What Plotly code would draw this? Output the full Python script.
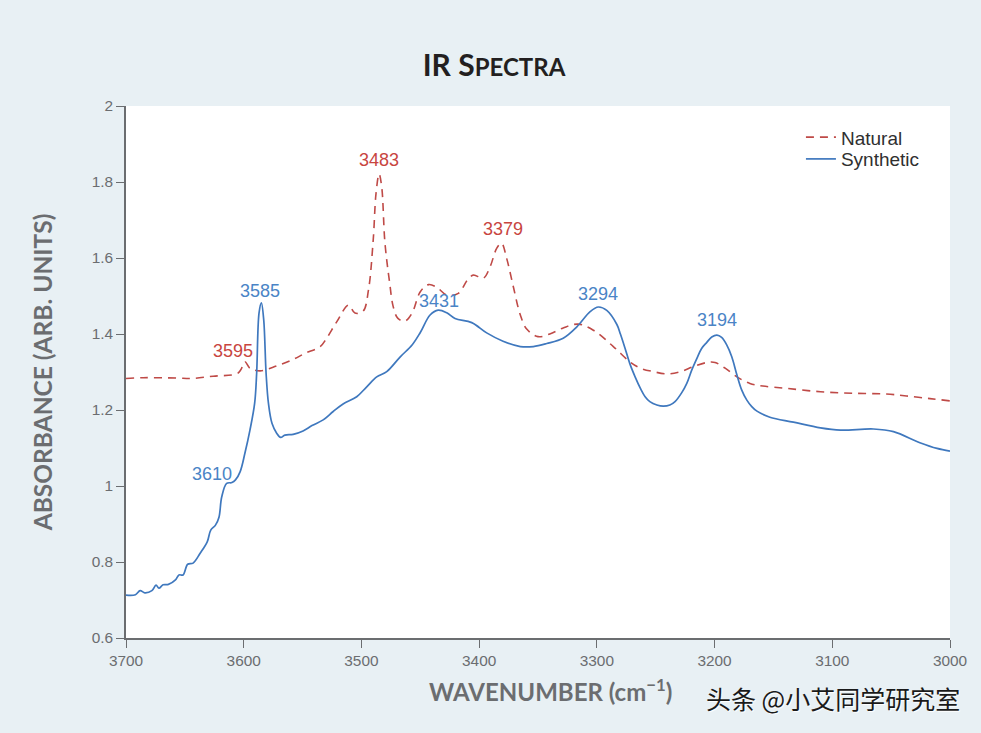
import plotly.graph_objects as go

synthetic_wn = [3700,3692,3688,3684,3678,3674.5,3672,3668.5,3664,3658,3655,3651.5,3647.6,3643,3637,3631,3628,3624,3621,3618.7,3614.5,3610,3607,3603,3599,3594.7,3590.7,3589,3587,3585,3583,3581,3579,3576,3572,3568.6,3565,3558,3549.6,3542,3532.5,3524,3515.6,3504,3495.5,3487,3478.5,3467,3457,3450,3441.7,3434.8,3427.5,3420.5,3406.3,3393.6,3379.7,3365,3354,3342.6,3328.6,3317,3305.7,3298.7,3291.6,3283,3280,3276,3272,3267.6,3263,3259,3255,3249,3243.6,3238,3233.6,3228,3223.6,3219.4,3215,3211,3206.6,3202.4,3198,3194,3189.8,3185.4,3181,3177,3172.6,3168.4,3164,3153,3133,3110,3093,3065,3048,3025.6,3011,3000]
synthetic_abs = [.713,.714,.7246,.719,.7246,.739,.731,.740,.741,.753,.766,.766,.794,.797,.823,.853,.884,.897,.918,.971,1.007,1.009,1.016,1.038,1.086,1.147,1.218,1.297,1.455,1.482,1.437,1.297,1.218,1.165,1.139,1.128,1.134,1.136,1.145,1.159,1.174,1.196,1.216,1.235,1.261,1.287,1.301,1.34,1.371,1.404,1.45,1.463,1.456,1.441,1.43,1.403,1.381,1.367,1.367,1.375,1.389,1.419,1.459,1.471,1.462,1.425,1.4,1.362,1.322,1.288,1.257,1.235,1.222,1.213,1.21,1.213,1.222,1.245,1.27,1.305,1.336,1.362,1.378,1.392,1.397,1.391,1.372,1.34,1.292,1.253,1.226,1.209,1.197,1.181,1.168,1.153,1.147,1.15,1.143,1.114,1.099,1.092]

natural_wn = [3700,3685.5,3657,3644,3626,3606,3602.6,3599,3594.7,3586,3572,3558,3548,3535,3529.5,3521,3511,3505.5,3498.6,3494,3490,3487.6,3485,3482.8,3480,3476,3473,3469,3463,3457,3450,3443,3436,3427.6,3417.7,3410,3405,3396.4,3390.7,3385,3381,3376.7,3371,3365,3359.6,3350,3340,3328.6,3316,3303,3286,3272,3263,3252,3240.6,3229,3218,3206.6,3199.6,3191,3181,3170,3159,3139,3110,3082,3054,3037,3017,3000]
natural_abs = [1.283,1.285,1.284,1.283,1.289,1.295,1.305,1.327,1.31,1.303,1.316,1.333,1.349,1.367,1.389,1.432,1.476,1.455,1.46,1.516,1.647,1.77,1.821,1.788,1.639,1.534,1.472,1.441,1.434,1.455,1.511,1.53,1.523,1.503,1.507,1.542,1.555,1.547,1.577,1.626,1.639,1.6,1.525,1.45,1.413,1.393,1.4,1.416,1.426,1.41,1.367,1.327,1.31,1.301,1.295,1.301,1.314,1.325,1.325,1.31,1.287,1.27,1.263,1.257,1.248,1.244,1.242,1.237,1.23,1.224]

natural_peak_text = ["3595","3483","3379"]
natural_peak_wn = [3599,3485,3381]
natural_peak_abs = [1.327,1.821,1.639]
synthetic_peak_text = ["3610","3585","3431","3294","3194"]
synthetic_peak_wn = [3610,3585,3434.8,3298.7,3198]
synthetic_peak_abs = [1.009,1.482,1.463,1.471,1.397]

x_ticks = [3700,3600,3500,3400,3300,3200,3100,3000]
y_ticks = [0.6,0.8,1,1.2,1.4,1.6,1.8,2]

BG = "#e8f0f4"
RED = "#bf4a47"
BLUE = "#3f78be"
GREY = "#6b6d70"
SANS = "Liberation Sans"
HEAD = "Lato"

fig = go.Figure()
fig.add_trace(go.Scatter(x=natural_wn, y=natural_abs, mode="lines", name="Natural", legend="legend", showlegend=True,
                         line=dict(color=RED, width=1.6, dash="8px,6px", shape="spline", smoothing=1.0)))
fig.add_trace(go.Scatter(x=synthetic_wn, y=synthetic_abs, mode="lines", name="Synthetic", legend="legend2", showlegend=True,
                         line=dict(color=BLUE, width=1.7, shape="spline", smoothing=1.0)))

offsets = {"3595": (-12, 11), "3483": (0, 14), "3379": (1, 14),
           "3610": (-20, 9), "3585": (-1, 12), "3431": (1, 9), "3294": (0, 13), "3194": (0, 15)}
for texts, xs, ys, col in [(natural_peak_text, natural_peak_wn, natural_peak_abs, "#c8453f"),
                           (synthetic_peak_text, synthetic_peak_wn, synthetic_peak_abs, "#4a84c6")]:
    for t, x, y in zip(texts, xs, ys):
        dx, dy = offsets[t]
        fig.add_annotation(x=x, y=y, text=t, showarrow=False, xshift=dx, yshift=dy,
                           font=dict(family=SANS, size=18, color=col))

fig.add_annotation(xref="paper", yref="paper", x=0.5146, y=0, yshift=-52, yanchor="middle", showarrow=False,
                   text="<b>WAVENUMBER (cm<sup>−1</sup>)</b>",
                   font=dict(family=HEAD, size=24, color=GREY))
fig.add_annotation(xref="paper", yref="paper", x=1.0, y=0, xshift=12, yshift=-60, xanchor="right", yanchor="middle",
                   showarrow=False, text="头条 @小艾同学研究室",
                   font=dict(family="Noto Sans CJK SC", size=25, color="#1a1a1a", shadow="1px 1px 1px #ffffff"))

axis = dict(showgrid=False, zeroline=False, showline=True, linecolor=GREY, linewidth=1.5,
            ticks="outside", ticklen=8, tickwidth=1.2, tickcolor=GREY,
            tickfont=dict(family=SANS, size=15.4, color=GREY))
legend_common = dict(x=0.8191, xanchor="left", yanchor="top", bgcolor="rgba(0,0,0,0)",
                     font=dict(family=SANS, size=19, color="#2f2f2f"), itemwidth=30)
fig.update_layout(
    width=981, height=733, margin=dict(l=126, r=31, t=106, b=95, autoexpand=False),
    paper_bgcolor=BG, plot_bgcolor="white",
    title=dict(text='<b>IR S<span style="font-size:24px">PECTRA</span></b>', x=0.5036, xanchor="center",
               y=0.9113, yanchor="middle", font=dict(family=HEAD, size=30, color="#231f20")),
    xaxis=dict(range=[3700, 3000], tickvals=x_ticks, ticktext=[str(v) for v in x_ticks], **axis),
    yaxis=dict(range=[0.6, 2], tickvals=y_ticks, ticktext=[f"{v:g}" for v in y_ticks],
               title=dict(text="<b>ABSORBANCE (ARB. UNITS)</b>", standoff=32,
                          font=dict(family=HEAD, size=24.5, color=GREY)), **axis),
    legend=dict(y=0.977, **legend_common),
    legend2=dict(y=0.936, **legend_common),
)
fig.write_html("out.html", config={"displayModeBar": False},
               post_script="document.body.style.margin='0';document.documentElement.style.background='#e8f0f4';")
